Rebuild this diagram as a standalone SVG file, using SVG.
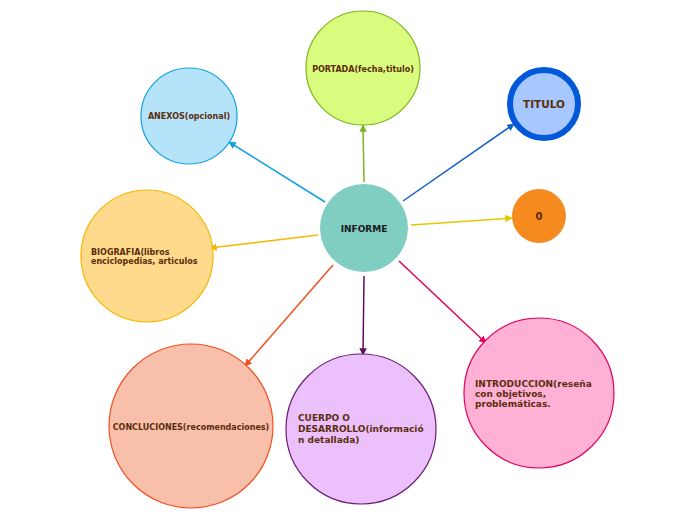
<svg xmlns="http://www.w3.org/2000/svg" width="696" height="520" viewBox="0 0 696 520">
<style>
text{font-family:"DejaVu Sans",Verdana,sans-serif;font-weight:bold;fill:#5a2d0c;font-size:8px}
.c{stroke-width:1.2}
line{stroke-width:1.5}
</style>
<defs>
<marker id="a" viewBox="0 0 10 10" refX="9" refY="5" markerWidth="5" markerHeight="5" orient="auto"><path d="M0,0L10,5L0,10z" fill="context-stroke"/></marker>
</defs>
<rect width="696" height="520" fill="#fff"/>
<g id="connectors" marker-end="url(#a)">
<line x1="325" y1="202" x2="229" y2="142" stroke="#0ea0e0"/>
<line x1="364" y1="182" x2="363" y2="125" stroke="#7db41f"/>
<line x1="403" y1="201" x2="514" y2="124" stroke="#1560c8"/>
<line x1="411" y1="225" x2="512" y2="218" stroke="#e6c800"/>
<line x1="399" y1="261" x2="486" y2="343" stroke="#e6005c"/>
<line x1="364" y1="276" x2="363" y2="355" stroke="#5c0f5c"/>
<line x1="333" y1="265" x2="245" y2="366" stroke="#f04f1f"/>
<line x1="318" y1="235" x2="210" y2="248" stroke="#f7b600"/>
</g>
<g id="informe"><circle cx="364" cy="228" r="44" fill="#80cdc1"/><text x="364" y="232" text-anchor="middle" style="fill:#1a1a1a;font-size:9px">INFORME</text></g>
<g id="portada"><circle class="c" cx="363" cy="68" r="57" fill="#d9fc7f" stroke="#7db41f"/><text x="363" y="72" text-anchor="middle">PORTADA(fecha,titulo)</text></g>
<g id="titulo"><circle cx="544" cy="104" r="34" fill="#a6c8ff" stroke="#0057d9" stroke-width="6"/><text x="544" y="108" text-anchor="middle" style="font-size:10.5px">TITULO</text></g>
<g id="cero"><circle cx="539" cy="216" r="27" fill="#f58a1f"/><text x="539" y="220" text-anchor="middle" style="font-size:10px">0</text></g>
<g id="intro"><circle class="c" cx="539" cy="393" r="75" fill="#ffb0d5" stroke="#e6005c"/><text x="475" y="387" style="font-size:9px">INTRODUCCION(reseña</text><text x="475" y="397" style="font-size:9px">con objetivos,</text><text x="475" y="407" style="font-size:9px">problemáticas.</text></g>
<g id="cuerpo"><circle class="c" cx="361" cy="429" r="75" fill="#ebc0fb" stroke="#6b1a74"/><text x="298" y="421" style="font-size:9px">CUERPO O</text><text x="298" y="432" style="font-size:9px">DESARROLLO(informació</text><text x="298" y="443" style="font-size:9px">n detallada)</text></g>
<g id="concl"><circle class="c" cx="191" cy="426" r="82" fill="#f8bfaa" stroke="#f04f1f"/><text x="191" y="430" text-anchor="middle">CONCLUCIONES(recomendaciones)</text></g>
<g id="bio"><circle class="c" cx="147" cy="256" r="66" fill="#fdda8c" stroke="#f7b600"/><text x="91" y="255">BIOGRAFIA(libros</text><text x="91" y="264">enciclopedias, articulos</text></g>
<g id="anexos"><circle class="c" cx="189" cy="116" r="48" fill="#b5e3f9" stroke="#0ea0e0"/><text x="189" y="119" text-anchor="middle">ANEXOS(opcional)</text></g>
</svg>
